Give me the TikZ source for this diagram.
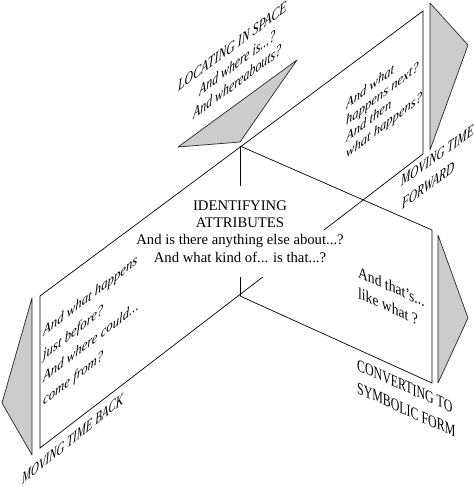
\documentclass[tikz,border=0pt]{standalone}
\usepackage{fontspec}
\setmainfont{Liberation Serif}
\begin{document}
\begin{tikzpicture}[x=1pt,y=1pt,
  edge/.style={line width=0.7pt, black},
  wing/.style={fill=gray!40, draw=black!85, line width=0.7pt, line join=round},
  ctrline/.style={fill=white, inner xsep=3pt, inner ysep=0pt, text height=14pt, text depth=6pt, font=\fontsize{14.7}{17}\selectfont, anchor=base},
  lbl/.style={transform shape, inner sep=0pt}
]
\useasboundingbox (0,0) rectangle (474,-494);
% time plane
\coordinate (TL) at (40,-296);
\coordinate (TR) at (423,-11);
\coordinate (BR) at (423,-154);
\coordinate (BL) at (40,-448);
% axis
\coordinate (AT) at (240,-146);
\coordinate (AB) at (240,-296);
% converting plane
\coordinate (CT) at (432,-230);
\coordinate (CB) at (432,-383);

\draw[edge] (TL) -- (TR) -- (BR) -- (BL) -- cycle;
\draw[edge] (AT) -- (CT) -- (CB) -- (AB);
\draw[edge] (AT) -- (AB);

% wings
\draw[wing] (178,-147) -- (297,-60) -- (240,-142) -- cycle;
\draw[wing] (430,-3) -- (468,-45) -- (430,-150) -- cycle;
\draw[wing] (438,-235) -- (468,-318) -- (438,-383) -- cycle;
\draw[wing] (32,-298) -- (2,-403) -- (32,-455) -- cycle;

% centre text
\node[ctrline, text height=24pt] (c1) at (240,-210) {IDENTIFYING};
\node[ctrline] (c2) at (240,-227) {ATTRIBUTES};
\node[ctrline] (c3) at (240,-244) {And is there anything else about...?};
\node[ctrline, text depth=15pt] (c4) at (240,-262) {And what kind of... is that...?};

% locating in space
\begin{scope}[shift={(178,-92)}, cm={0.74,0.55,0,1,(0,0)}]
\node[lbl, anchor=base west, font=\itshape\fontsize{16}{19}\selectfont] (loc1) at (0,0) {LOCATING IN SPACE};
\node[lbl, anchor=base, font=\itshape\fontsize{16}{19}\selectfont] (loc2) at (80,-20) {And where is...?};
\node[lbl, anchor=base, font=\itshape\fontsize{16}{19}\selectfont] (loc3) at (80,-39) {And whereabouts?};
\end{scope}

% forward questions
\begin{scope}[shift={(346,-131)}, cm={0.9,0.693,0,1,(0,0)}]
\node[lbl, anchor=west, align=left, font=\itshape\fontsize{14}{16.5}\selectfont] (fwdq) at (0,0) {And what\\happens next?\\And then\\what happens?};
\end{scope}

% moving time forward
\begin{scope}[shift={(401,-187)}, cm={0.7,0.504,0,1,(0,0)}]
\node[lbl, anchor=base west, font=\itshape\fontsize{16}{19}\selectfont] (fwd1) at (0,0) {MOVING TIME};
\node[lbl, anchor=base west, font=\itshape\fontsize{16}{19}\selectfont] (fwd2) at (1.5,-23) {FORWARD};
\end{scope}

% back questions
\begin{scope}[shift={(43,-368)}, cm={0.88,0.68,0,1,(0,0)}]
\node[lbl, anchor=west, align=left, font=\itshape\fontsize{14.5}{23}\selectfont] (backq) at (0,0) {And what happens\\just before?\\And where could...\\come from?};
\end{scope}

% moving time back
\begin{scope}[shift={(22,-485)}, cm={0.68,0.55,0,1,(0,0)}]
\node[lbl, anchor=base west, font=\itshape\fontsize{16}{19}\selectfont] (back1) at (0,0) {MOVING TIME BACK};
\end{scope}

% and that's
\begin{scope}[shift={(358,-277)}, cm={0.85,-0.383,0,1,(0,0)}]
\node[lbl, anchor=base west, font=\fontsize{16}{19}\selectfont] (sym1) at (0,0) {And that's...};
\node[lbl, anchor=base west, font=\fontsize{16}{19}\selectfont] (sym2) at (0,-21) {like what ?};
\end{scope}

% converting
\begin{scope}[shift={(357,-370)}, cm={0.7,-0.315,0,1,(0,0)}]
\node[lbl, anchor=base west, font=\fontsize{17}{20}\selectfont] (conv1) at (0,0) {CONVERTING TO};
\node[lbl, anchor=base west, font=\fontsize{17}{20}\selectfont] (conv2) at (0,-23) {SYMBOLIC FORM};
\end{scope}
\end{tikzpicture}
\end{document}
